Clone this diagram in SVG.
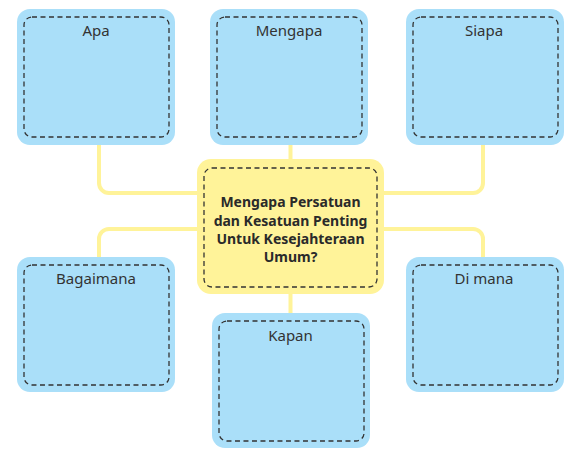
<svg xmlns="http://www.w3.org/2000/svg" width="581" height="462" viewBox="0 0 581 462">
<style>
.box{fill:#aadff9}
.center{fill:#fff399}
.dash{fill:none;stroke:#333;stroke-width:1.3;stroke-dasharray:5 3.5}
.link{fill:none;stroke:#fff399;stroke-width:4}
.lbl{font-family:"Noto Sans","Liberation Sans",sans-serif;font-size:15px;fill:#333;text-anchor:middle}
.q{font-family:"Noto Sans","Liberation Sans",sans-serif;font-size:14px;font-weight:bold;fill:#2a2a2a;text-anchor:middle}
</style>
<rect width="581" height="462" fill="#ffffff"/>
<g id="connectors">
<path class="link" d="M99 145 V183 A10 10 0 0 0 109 193 H199"/>
<path class="link" d="M290.5 145 V161"/>
<path class="link" d="M483 145 V183 A10 10 0 0 1 473 193 H382"/>
<path class="link" d="M199 229 H109 A10 10 0 0 0 99 239 V259"/>
<path class="link" d="M382 229 H473 A10 10 0 0 1 483 239 V259"/>
<path class="link" d="M290.5 292 V315"/>
</g>
<g id="node-apa">
<rect class="box" x="17" y="9" width="158" height="136" rx="13"/>
<rect class="dash" x="24" y="17" width="145" height="120" rx="8"/>
<text class="lbl" x="96" y="36">Apa</text>
</g>
<g id="node-mengapa">
<rect class="box" x="210" y="9" width="158" height="136" rx="13"/>
<rect class="dash" x="217" y="17" width="145" height="120" rx="8"/>
<text class="lbl" x="289" y="36">Mengapa</text>
</g>
<g id="node-siapa">
<rect class="box" x="406" y="9" width="158" height="136" rx="13"/>
<rect class="dash" x="413" y="17" width="145" height="120" rx="8"/>
<text class="lbl" x="484" y="36">Siapa</text>
</g>
<g id="node-center">
<rect class="center" x="197" y="159" width="187" height="135" rx="14"/>
<rect class="dash" x="204" y="168" width="173" height="119" rx="8"/>
<text class="q" x="290.5" y="207">Mengapa Persatuan</text>
<text class="q" x="290.5" y="225.5">dan Kesatuan Penting</text>
<text class="q" x="290.5" y="244">Untuk Kesejahteraan</text>
<text class="q" x="290.5" y="262">Umum?</text>
</g>
<g id="node-bagaimana">
<rect class="box" x="17" y="257" width="158" height="135" rx="13"/>
<rect class="dash" x="24" y="265" width="145" height="120" rx="8"/>
<text class="lbl" x="96" y="284">Bagaimana</text>
</g>
<g id="node-dimana">
<rect class="box" x="406" y="257" width="158" height="135" rx="13"/>
<rect class="dash" x="413" y="265" width="145" height="120" rx="8"/>
<text class="lbl" x="484" y="284">Di mana</text>
</g>
<g id="node-kapan">
<rect class="box" x="212" y="313" width="158" height="135" rx="13"/>
<rect class="dash" x="219" y="321" width="145" height="120" rx="8"/>
<text class="lbl" x="290.5" y="341">Kapan</text>
</g>
</svg>
